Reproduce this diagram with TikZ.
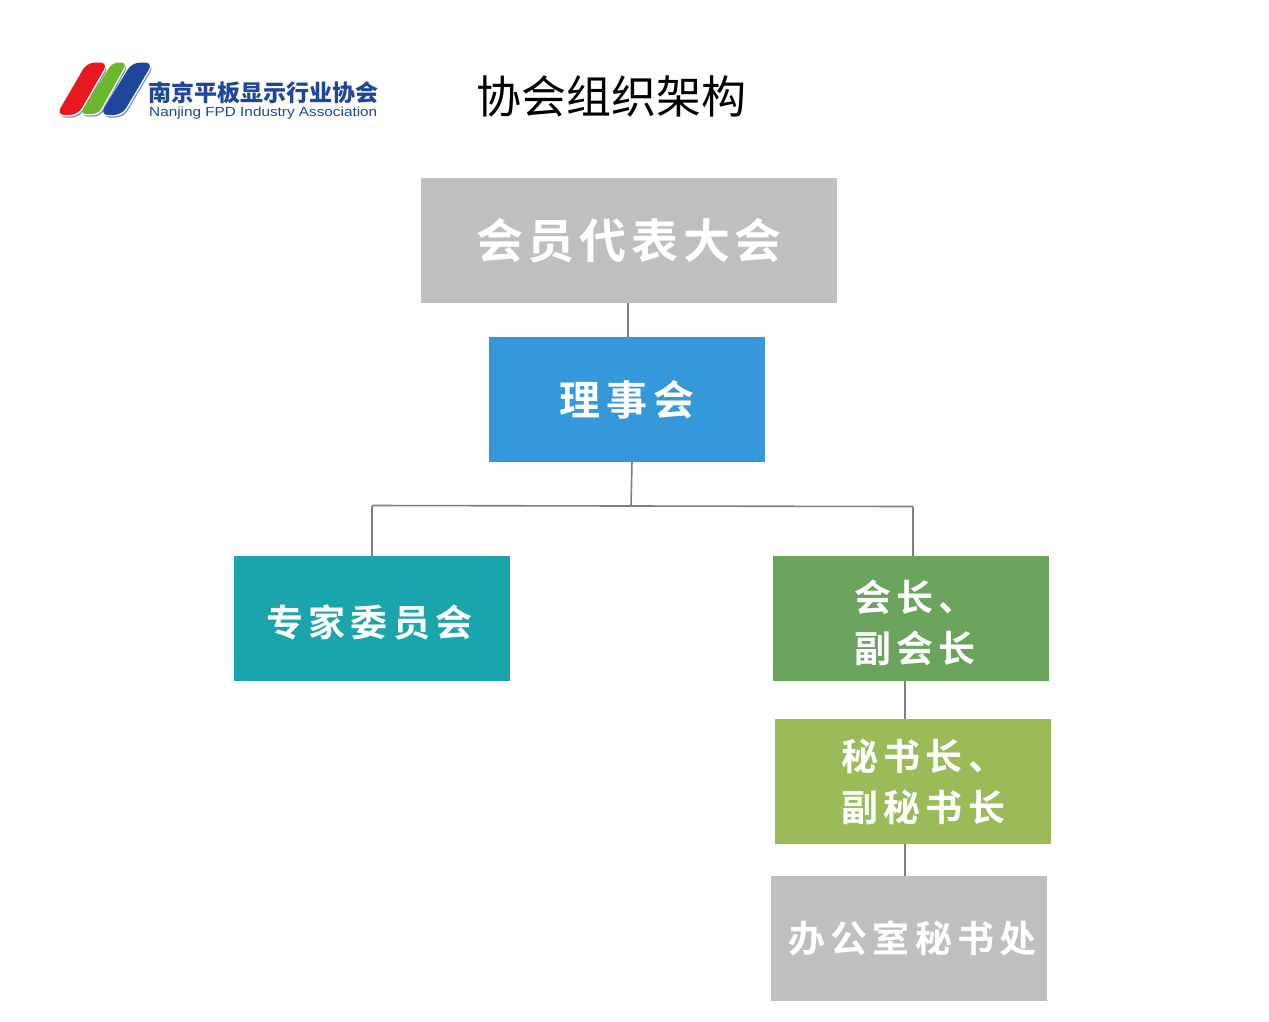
\documentclass[tikz,border=0pt]{standalone}
\usepackage{fontspec}
\setmainfont{Noto Sans CJK SC}
\newfontfamily\latinfont[FakeStretch=1.16]{Liberation Sans}
\newfontfamily\headfont[LetterSpace=10,BoldFont={Noto Sans CJK SC Bold}]{Noto Sans CJK SC}
\newfontfamily\midfont[LetterSpace=14,BoldFont={Noto Sans CJK SC Bold}]{Noto Sans CJK SC}
\newfontfamily\wideboxfont[LetterSpace=14,BoldFont={Noto Sans CJK SC Bold}]{Noto Sans CJK SC}
\newfontfamily\twolinefont[LetterSpace=14,BoldFont={Noto Sans CJK SC Bold}]{Noto Sans CJK SC}
\definecolor{boxgray}{RGB}{191,191,191}
\definecolor{boxblue}{RGB}{52,152,219}
\definecolor{boxteal}{RGB}{26,165,172}
\definecolor{boxgreen}{RGB}{106,163,91}
\definecolor{boxolive}{RGB}{155,187,89}
\definecolor{linegray}{RGB}{127,127,127}
\definecolor{logored}{RGB}{232,24,32}
\definecolor{logogreen}{RGB}{108,184,44}
\definecolor{logoblue}{RGB}{30,70,155}
\tikzset{
	orgbox/.style={minimum width=276pt,minimum height=125pt,inner sep=0pt,text=white,font=\twolinefont\bfseries\fontsize{37}{51}\selectfont},
	twoline/.style={orgbox,text width=276pt,align=left},
	orgline/.style={draw=linegray,line width=1.6pt},
}
% one logo stripe: radius, four corners, colour
\newcommand{\logostripe}[6]{
	\fill[logoblue!60!white,rounded corners=#1,shift={(1.6,2.6)}] #2 -- #3 -- #4 -- #5 -- cycle;
	\fill[white,rounded corners=#1,shift={(.8,1.3)}] #2 -- #3 -- #4 -- #5 -- cycle;
	\fill[#6,rounded corners=#1] #2 -- #3 -- #4 -- #5 -- cycle;
}
% taller first line, moves the text in its box down
\newcommand{\pushdown}{\rule{0pt}{40pt}}
\begin{document}
\begin{tikzpicture}[x=1pt,y=-1pt]
	\useasboundingbox (0,0) rectangle (1269,1021);
	
	% logo
	\logostripe{8pt}{(87,62.5)}{(108,62.5)}{(78,115)}{(56.5,115)}{logored}
	\logostripe{6pt}{(112.5,62.5)}{(127,62.5)}{(98.5,114)}{(80,114)}{logogreen}
	\logostripe{8pt}{(132,62.5)}{(153,62.5)}{(122,115)}{(100,115)}{logoblue}
	\node[inner sep=0pt,anchor=west,text=logoblue,font=\bfseries\fontsize{23}{24}\selectfont] (logocn) at (148,93) {南京平板显示行业协会};
	\node[inner sep=0pt,anchor=west,text=logoblue,font=\latinfont\fontsize{13.2}{14}\selectfont] (logoen) at (149,113) {Nanjing FPD Industry Association};
	
	% title
	\node[inner sep=0pt,font=\fontsize{45}{50}\selectfont] (title) at (611.5,96) {协会组织架构};
	
	% boxes
	\node[orgbox,fill=boxgray,minimum width=416pt,font=\headfont\bfseries\fontsize{47}{51}\selectfont] (dbdh) at (629,240.5) {会员代表大会};
	\node[orgbox,fill=boxblue,font=\midfont\bfseries\fontsize{41}{51}\selectfont] (lsh) at (627,399.5) {理事会};
	\node[orgbox,fill=boxteal] (zjwyh) at (372,618.5) {\hspace*{-5pt}\pushdown 专家委员会};
	\node[twoline,fill=boxgreen] (hz) at (911,618.5) {\hspace*{81pt}\pushdown 会长、\\\hspace*{81pt}副会长};
	\node[twoline,fill=boxolive] (msz) at (912.5,781.5) {\hspace*{67pt}秘书长、\\\hspace*{67pt}副秘书长};
	\node[orgbox,fill=boxgray] (bgs) at (909,938.5) {\hspace*{7pt}办公室秘书处};
	
	% connectors
	\coordinate (jl) at (372,505.5);
	\coordinate (jm) at (631,506);
	\coordinate (jr) at (913,506.5);
	\draw[orgline] (dbdh.south -| 628,0) -- (lsh.north -| 628,0);
	\draw[orgline] (lsh.south -| 632,0) -- (jm);
	\draw[orgline] (jl) -- (jm) -- (jr);
	\draw[orgline] (jl) -- (zjwyh.north -| jl);
	\draw[orgline] (jr) -- (hz.north -| jr);
	\draw[orgline] (hz.south -| 905,0) -- (msz.north -| 905,0);
	\draw[orgline] (msz.south -| 905,0) -- (bgs.north -| 905,0);
\end{tikzpicture}
\end{document}
